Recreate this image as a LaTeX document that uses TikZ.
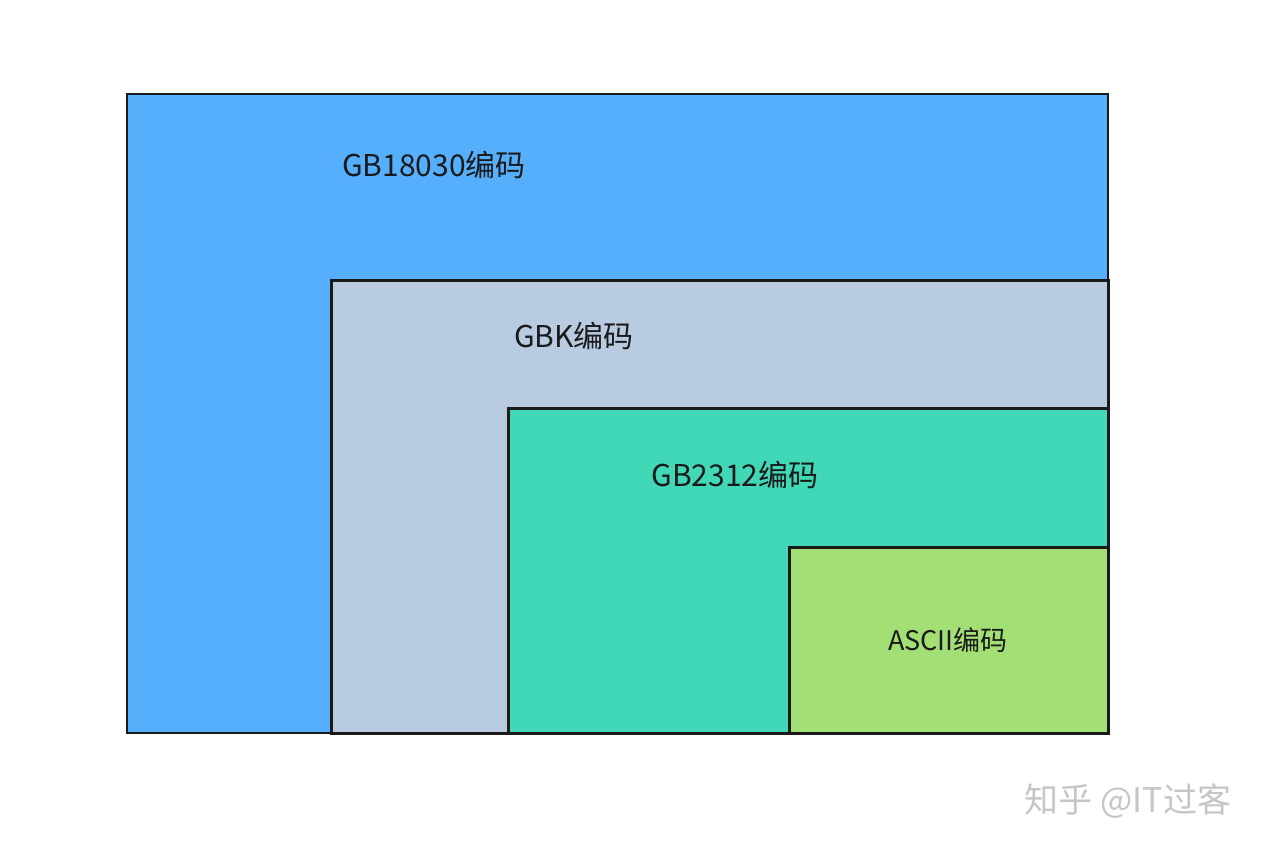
\documentclass[tikz,border=0pt]{standalone}
\usepackage{fontspec}
\setmainfont{Noto Sans CJK SC}
\definecolor{cA}{HTML}{56AFFC}
\definecolor{cB}{HTML}{B8CBE0}
\definecolor{cC}{HTML}{41D8B8}
\definecolor{cD}{HTML}{A2DF74}
\definecolor{edge}{HTML}{1A1A1A}
\begin{document}
\begin{tikzpicture}[x=1pt,y=-1pt,
  box/.style={draw=edge,line width=3pt},
  lbl/.style={font=\fontsize{30}{32}\selectfont,text=edge}]
\useasboundingbox[fill=white] (0,0) rectangle (1280,853);
\draw[fill=cA,draw=edge,line width=1.8pt] (127,94) rectangle (1108,733);
\draw[box,fill=cB] (331,280) rectangle (1108,733);
\draw[box,fill=cC] (508,408) rectangle (1108,733);
\draw[box,fill=cD] (789,547) rectangle (1108,733);
\node[lbl] (l1) at (434,165) {GB18030编码};
\node[lbl] (l2) at (574,336) {GBK编码};
\node[lbl] (l3) at (735,475) {GB2312编码};
\node[lbl,font=\fontsize{27}{29}\selectfont] (l4) at (948,640) {ASCII编码};
\node[text=gray!45,font=\fontsize{34}{36}\selectfont] (wm) at (1128,801) {知乎 @IT过客};
\end{tikzpicture}
\end{document}
